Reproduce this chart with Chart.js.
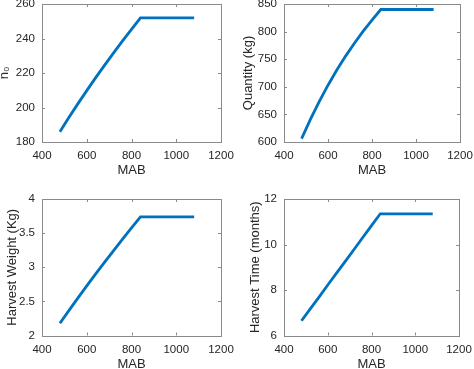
<!DOCTYPE html>
<html>
<head>
<meta charset="utf-8">
<script src="https://cdn.jsdelivr.net/npm/chart.js@4"></script>
<style>
  html, body { margin: 0; padding: 0; background: #fff; }
  body { width: 474px; height: 369px; position: relative; overflow: hidden; }
  canvas { position: absolute; }
</style>
</head>
<body>
<canvas id="c1"></canvas>
<canvas id="c2"></canvas>
<canvas id="c3"></canvas>
<canvas id="c4"></canvas>
<script>
// MAB values (x axis, same for all four panels)
var MAB = [480, 520, 560, 600, 640, 680, 720, 760, 800, 840, 880, 920, 960, 1000, 1040, 1080];
var N0 = [186, 194.2, 202.1, 209.8, 217.3, 224.6, 231.7, 238.6, 245.3, 252, 252, 252, 252, 252, 252, 252];
var QUANTITY = [606, 641, 673.3, 702.9, 730.3, 755.6, 779, 800.7, 820.8, 840, 840, 840, 840, 840, 840, 840];
var HARVEST_WEIGHT = [2.18, 2.365, 2.547, 2.726, 2.902, 3.075, 3.245, 3.412, 3.576, 3.737, 3.737, 3.737, 3.737, 3.737, 3.737, 3.737];
var HARVEST_TIME = [6.65, 7.17, 7.69, 8.22, 8.74, 9.26, 9.78, 10.31, 10.83, 11.35, 11.35, 11.35, 11.35, 11.35, 11.35, 11.35];
var X_TICKS = [400, 600, 800, 1000, 1200];

var Cores = { linha: '#0072BD', texto: '#262626', eixo: '#8a8a8a' };
var FONTE = "'Liberation Sans', Arial, Helvetica, sans-serif";

/* desenha a caixa e os tracinhos internos (estilo MATLAB) */
var caixaPlugin = {
    id: 'caixa',
    afterDraw: function (chart) {
        var ctx = chart.ctx, a = chart.chartArea;
        var sx = chart.scales.x, sy = chart.scales.y;
        var tam = 3;
        ctx.save();
        ctx.strokeStyle = Cores.eixo;
        ctx.lineWidth = 1;
        ctx.strokeRect(Math.round(a.left) + 0.5, Math.round(a.top) + 0.5,
            Math.round(a.right - a.left), Math.round(a.bottom - a.top));
        ctx.beginPath();
        sx.ticks.forEach(function (t, i) {
            var px = Math.round(sx.getPixelForTick(i)) + 0.5;
            ctx.moveTo(px, a.bottom); ctx.lineTo(px, a.bottom - tam);
            ctx.moveTo(px, a.top); ctx.lineTo(px, a.top + tam);
        });
        sy.ticks.forEach(function (t, i) {
            var py = Math.round(sy.getPixelForTick(i)) + 0.5;
            ctx.moveTo(a.left, py); ctx.lineTo(a.left + tam, py);
            ctx.moveTo(a.right, py); ctx.lineTo(a.right - tam, py);
        });
        ctx.stroke();
        ctx.restore();
    }
};

function GerarPainel(id, valores, tituloY, yMin, yMax, yPasso, box) {
    var canvas = document.getElementById(id);
    canvas.width = box.w;
    canvas.height = box.h;
    canvas.style.left = box.x + 'px';
    canvas.style.top = box.y + 'px';

    var pontos = MAB.map(function (m, i) { return { x: m, y: valores[i] }; });

    return new Chart(canvas.getContext('2d'), {
        type: 'line',
        data: {
            datasets: [{
                data: pontos,
                borderColor: Cores.linha,
                borderWidth: 2.8,
                pointRadius: 0,
                fill: false,
                tension: 0
            }]
        },
        options: {
            responsive: false,
            animation: false,
            events: [],
            layout: { padding: { left: 0, top: box.pt, right: box.pr, bottom: 0 } },
            plugins: { legend: { display: false }, tooltip: { enabled: false } },
            scales: {
                x: {
                    type: 'linear',
                    min: 400, max: 1200,
                    afterBuildTicks: function (s) { s.ticks = X_TICKS.map(function (v) { return { value: v }; }); },
                    afterFit: function (s) { s.height = box.hx; },
                    grid: { display: false, drawTicks: false },
                    border: { display: false },
                    ticks: {
                        color: Cores.texto, padding: 7, maxRotation: 0, autoSkip: false,
                        font: { family: FONTE, size: 11.5 },
                        callback: function (v) { return String(v); }
                    },
                    title: {
                        display: true, text: 'MAB', color: Cores.texto,
                        padding: { top: 0, bottom: 0 },
                        font: { family: FONTE, size: 13 }
                    }
                },
                y: {
                    type: 'linear',
                    min: yMin, max: yMax,
                    ticks: {
                        stepSize: yPasso, color: Cores.texto, padding: 7,
                        font: { family: FONTE, size: 11.5 },
                        callback: function (v) { return String(v); }
                    },
                    afterFit: function (s) { s.width = box.wy; },
                    grid: { display: false, drawTicks: false },
                    border: { display: false },
                    title: {
                        display: true, text: tituloY, color: Cores.texto,
                        padding: { top: 0, bottom: 0 },
                        font: { family: FONTE, size: 13 }
                    }
                }
            }
        },
        plugins: [caixaPlugin]
    });
}

GerarPainel('c1', N0, 'n\u2080', 180, 260, 20, { x: -3, y: -10, w: 248, h: 188, pt: 14, pr: 24, wy: 45, hx: 36 });
GerarPainel('c2', QUANTITY, 'Quantity (kg)', 600, 850, 50, { x: 241, y: -10, w: 243, h: 188, pt: 14, pr: 24, wy: 43, hx: 36 });
GerarPainel('c3', HARVEST_WEIGHT, 'Harvest Weight (Kg)', 2, 4, 0.5, { x: 5, y: 185, w: 240, h: 187, pt: 14, pr: 24, wy: 37, hx: 36.5 });
GerarPainel('c4', HARVEST_TIME, 'Harvest Time (months)', 6, 12, 2, { x: 248, y: 185, w: 235, h: 187, pt: 14, pr: 24, wy: 36, hx: 36.5 });
</script>
</body>
</html>
